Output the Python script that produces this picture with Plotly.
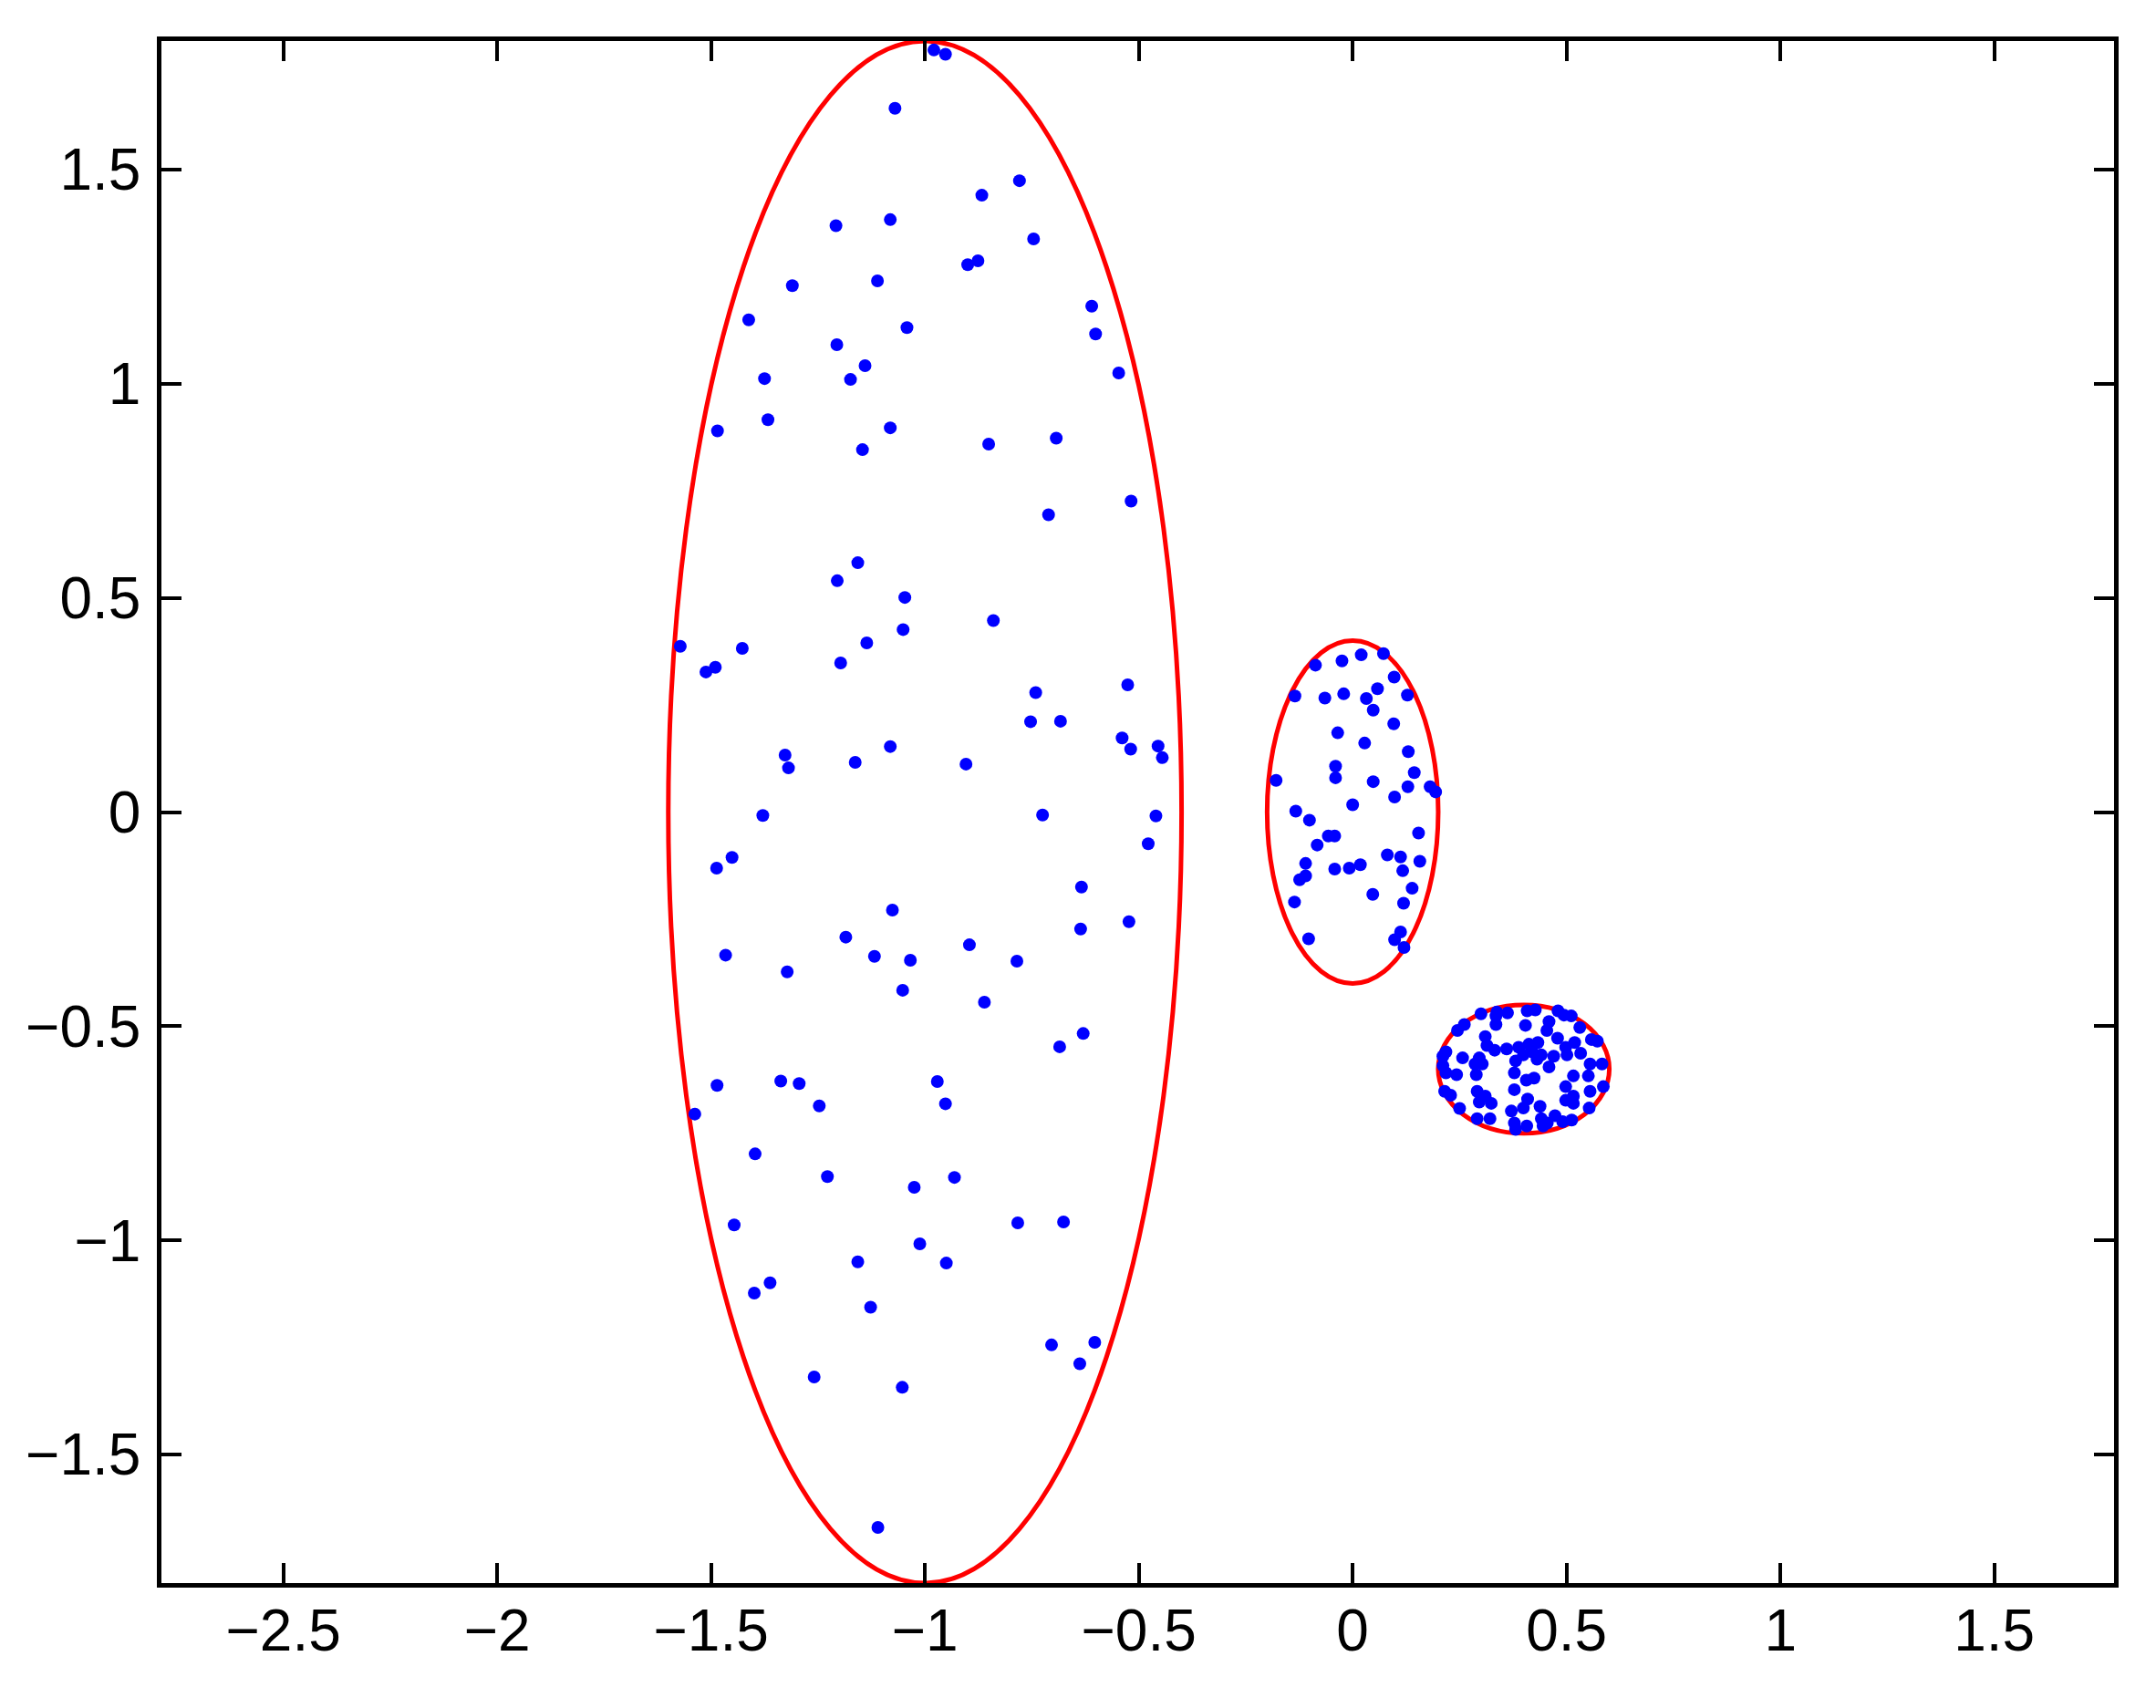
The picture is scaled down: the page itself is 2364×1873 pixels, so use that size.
import plotly.graph_objects as go

# ellipses (center and half axes)
ellipse_cx = [-1.0, 0.0, 0.4]
ellipse_cy = [0.0, 0.0, -0.6]
ellipse_rx = [0.6, 0.2, 0.2]
ellipse_ry = [1.8, 0.4, 0.15]

# big cluster
big_x = [-0.979, -0.952, -1.070, -0.779, -0.867, -1.208, -1.081, -0.746, -0.900, -0.876,
         -1.310, -1.111, -1.412, -1.042, -1.206, -0.610, -0.601, -1.140, -1.174, -1.375,
         -0.547, -1.367, -1.485, -1.081,
         -0.693, -1.146, -0.851, -0.518, -0.711, -1.157, -1.205, -1.047, -0.840, -1.051,
         -1.136, -1.572, -1.427, -1.490, -1.512, -1.197, -0.741, -0.526, -0.753, -0.683,
         -0.539, -0.519, -0.455, -0.445, -1.327, -1.319, -1.081, -1.163, -0.904, -1.379,
         -0.725, -0.460,
         -0.478, -1.451, -1.487, -0.634, -1.076, -0.523, -0.636, -1.185, -0.896, -1.466,
         -1.118, -1.034, -0.785, -1.322, -1.052, -0.861, -0.630, -0.685, -1.486, -1.337,
         -1.294, -0.971, -0.952, -1.247, -1.538, -1.397, -1.228, -1.025, -0.931, -1.446,
         -0.783, -0.676,
         -1.012, -1.157, -0.950, -1.362, -1.399, -1.127, -0.704, -0.603, -0.638, -1.259,
         -1.053, -1.110]
big_y = [1.779, 1.769, 1.643, 1.474, 1.440, 1.369, 1.383, 1.338, 1.278, 1.287,
         1.229, 1.240, 1.149, 1.131, 1.091, 1.181, 1.116, 1.042, 1.010, 1.012,
         1.025, 0.916, 0.890, 0.897,
         0.873, 0.846, 0.859, 0.726, 0.694, 0.582, 0.540, 0.501, 0.447, 0.426,
         0.395, 0.387, 0.382, 0.338, 0.327, 0.348, 0.279, 0.297, 0.211, 0.212,
         0.173, 0.147, 0.154, 0.127, 0.133, 0.103, 0.153, 0.116, 0.112, -0.008,
         -0.007, -0.009,
         -0.074, -0.106, -0.131, -0.175, -0.229, -0.256, -0.273, -0.292, -0.310, -0.334,
         -0.337, -0.346, -0.348, -0.373, -0.416, -0.444, -0.517, -0.548, -0.638, -0.628,
         -0.634, -0.629, -0.681, -0.686, -0.705, -0.798, -0.851, -0.876, -0.853, -0.964,
         -0.959, -0.957,
         -1.008, -1.050, -1.053, -1.099, -1.123, -1.156, -1.244, -1.238, -1.288, -1.319,
         -1.343, -1.670]

# middle cluster
mid_x = [-0.087, -0.025, 0.020, 0.072, 0.097, 0.058, -0.135, -0.065, -0.021, 0.032,
         0.128, 0.048, 0.096, -0.035, 0.028, 0.130, -0.040, -0.040, -0.179, 0.048,
         0.144, 0.129, 0.181, 0.194, 0.098, 0.000, -0.133, -0.101, -0.057, -0.042,
         -0.083, 0.154, 0.081, 0.112, 0.157, -0.110, 0.117, -0.042, -0.008, 0.018,
         -0.110, -0.124, 0.139, 0.047, -0.136, 0.119, -0.103, 0.112, 0.098, 0.120]
mid_y = [0.343, 0.353, 0.367, 0.370, 0.315, 0.288, 0.271, 0.266, 0.276, 0.265,
         0.273, 0.238, 0.206, 0.185, 0.161, 0.141, 0.107, 0.080, 0.074, 0.071,
         0.092, 0.059, 0.059, 0.047, 0.035, 0.017, 0.002, -0.019, -0.056, -0.056,
         -0.077, -0.049, -0.100, -0.105, -0.115, -0.120, -0.137, -0.133, -0.131, -0.123,
         -0.149, -0.158, -0.178, -0.192, -0.210, -0.213, -0.296, -0.280, -0.298, -0.316]

# small cluster
small_x = [0.300, 0.337, 0.362, 0.335, 0.335, 0.408, 0.427, 0.480, 0.494, 0.511,
           0.261, 0.245, 0.404, 0.459, 0.454, 0.531, 0.310, 0.479, 0.558, 0.572,
           0.519, 0.498, 0.314, 0.332, 0.360, 0.388, 0.412, 0.433, 0.420, 0.441,
           0.431, 0.218, 0.211, 0.257, 0.296, 0.286, 0.303, 0.381, 0.399, 0.470,
           0.459, 0.501, 0.533, 0.555, 0.583, 0.551, 0.211, 0.218, 0.243, 0.289,
           0.378, 0.516, 0.498, 0.406, 0.424, 0.586, 0.555, 0.215, 0.229, 0.291,
           0.310, 0.378, 0.296, 0.324, 0.498, 0.516, 0.516, 0.409, 0.399, 0.438,
           0.250, 0.553, 0.371, 0.321, 0.291, 0.378, 0.381, 0.407, 0.441, 0.455,
           0.445, 0.473, 0.491, 0.512]
small_y = [-0.471, -0.467, -0.469, -0.476, -0.496, -0.464, -0.462, -0.464, -0.474, -0.476,
           -0.496, -0.510, -0.498, -0.489, -0.510, -0.503, -0.524, -0.528, -0.531, -0.535,
           -0.538, -0.549, -0.545, -0.556, -0.553, -0.549, -0.542, -0.538, -0.560, -0.567,
           -0.577, -0.560, -0.570, -0.574, -0.574, -0.588, -0.588, -0.581, -0.567, -0.570,
           -0.595, -0.567, -0.563, -0.588, -0.588, -0.616, -0.592, -0.609, -0.613, -0.613,
           -0.609, -0.616, -0.641, -0.626, -0.621, -0.641, -0.652, -0.652, -0.661, -0.652,
           -0.663, -0.648, -0.677, -0.680, -0.673, -0.663, -0.680, -0.670, -0.691, -0.687,
           -0.692, -0.691, -0.698, -0.716, -0.716, -0.726, -0.741, -0.733, -0.716, -0.726,
           -0.733, -0.709, -0.723, -0.719]

x_ticks = [-2.5, -2, -1.5, -1, -0.5, 0, 0.5, 1, 1.5]
x_labels = ['\u22122.5', '\u22122', '\u22121.5', '\u22121', '\u22120.5', '0', '0.5', '1', '1.5']
y_ticks = [-1.5, -1, -0.5, 0, 0.5, 1, 1.5]
y_labels = ['\u22121.5', '\u22121', '\u22120.5', '0', '0.5', '1', '1.5']

fig = go.Figure()

for xs, ys in [(big_x, big_y), (mid_x, mid_y), (small_x, small_y)]:
    fig.add_trace(go.Scatter(
        x=xs, y=ys, mode='markers',
        marker=dict(color='#0000FF', size=14, line=dict(width=0)),
        showlegend=False
    ))

# ellipses drawn under the points
for cx, cy, rx, ry in zip(ellipse_cx, ellipse_cy, ellipse_rx, ellipse_ry):
    fig.add_shape(
        type='circle', xref='x', yref='y',
        x0=cx - rx, x1=cx + rx, y0=cy - ry, y1=cy + ry,
        line=dict(color='#FF0000', width=5),
        layer='below'
    )

# page body has an 8px margin, so the figure is a bit smaller than the window
fig.update_layout(
    width=2348,
    height=1857,
    margin=dict(l=169, r=38, t=37, b=129),
    paper_bgcolor='white',
    plot_bgcolor='white',
    font=dict(family='Liberation Sans, Arial, sans-serif', size=64, color='black'),
)

fig.update_xaxes(
    range=[-2.785, 1.78],
    tickvals=x_ticks, ticktext=x_labels,
    ticks='inside', ticklen=22, tickwidth=4, tickcolor='black',
    showline=True, linewidth=4.5, linecolor='black', mirror='ticks',
    showgrid=False, zeroline=False,
    ticklabelstandoff=-8
)

fig.update_yaxes(
    range=[-1.8, 1.8],
    tickvals=y_ticks, ticktext=y_labels,
    ticks='inside', ticklen=22, tickwidth=4, tickcolor='black',
    showline=True, linewidth=4.5, linecolor='black', mirror='ticks',
    showgrid=False, zeroline=False,
    ticklabelstandoff=5
)

fig.write_html("out.html")
